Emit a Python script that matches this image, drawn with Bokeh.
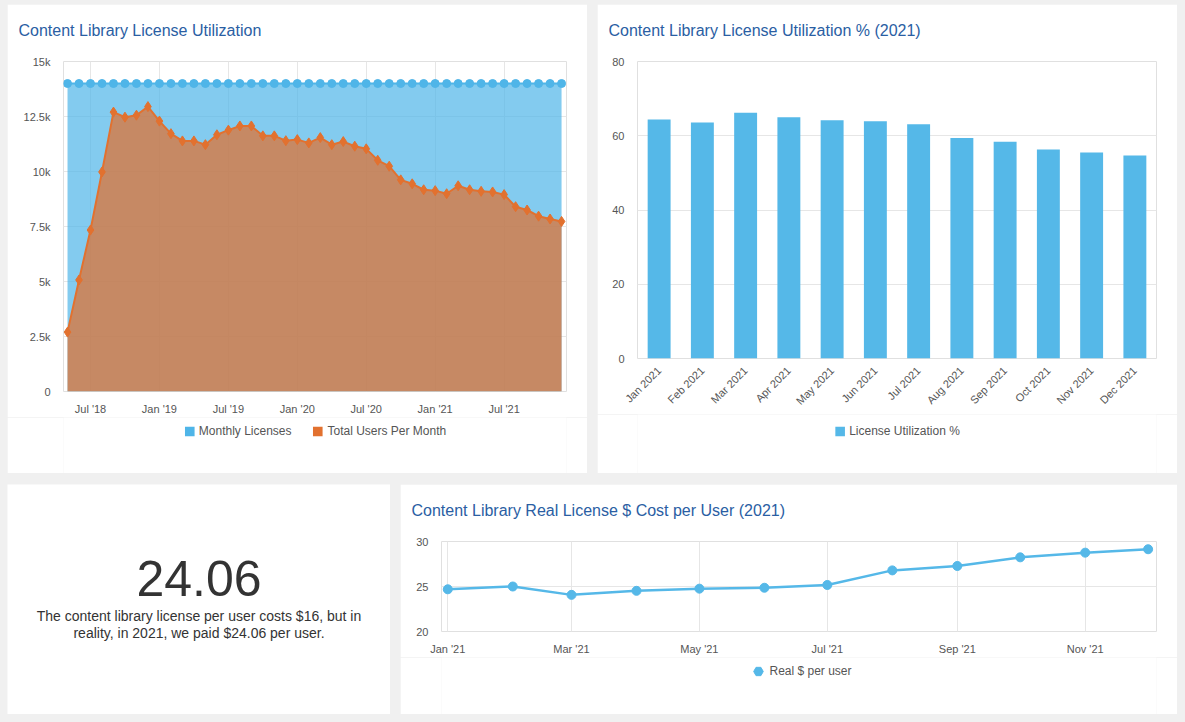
import math
import pandas as pd
from bokeh.plotting import figure
from bokeh.models import (ColumnDataSource, FixedTicker, Legend, LegendItem, Title,
                          Range1d, FactorRange)
from bokeh.layouts import row, column
from bokeh.embed import file_html
from bokeh.resources import INLINE

# ---------------- data ----------------
util_months = pd.date_range("2018-05-01", "2021-12-01", freq="MS")
monthly_licenses = [14000] * 44
total_users = [2700, 5070, 7340, 9980, 12700, 12470, 12560, 12950, 12290, 11720,
               11390, 11390, 11220, 11670, 11880, 12070, 12070, 11620, 11620, 11400,
               11450, 11300, 11540, 11220, 11360, 11150, 11030, 10510, 10240, 9620,
               9440, 9170, 9130, 8990, 9350, 9170, 9100, 9070, 8950, 8400,
               8250, 7970, 7840, 7730]
util_tick_months = ["2018-07", "2019-01", "2019-07", "2020-01", "2020-07", "2021-01", "2021-07"]
util_tick_labels = ["Jul '18", "Jan '19", "Jul '19", "Jan '20", "Jul '20", "Jan '21", "Jul '21"]
util_y_ticks = [0, 2500, 5000, 7500, 10000, 12500, 15000]
util_y_labels = ["0", "2.5k", "5k", "7.5k", "10k", "12.5k", "15k"]

pct_months = ["Jan 2021", "Feb 2021", "Mar 2021", "Apr 2021", "May 2021", "Jun 2021",
              "Jul 2021", "Aug 2021", "Sep 2021", "Oct 2021", "Nov 2021", "Dec 2021"]
pct_values = [64.4, 63.6, 66.2, 65.0, 64.2, 63.9, 63.1, 59.4, 58.4, 56.3, 55.5, 54.7]

cost_dates = ["2021-01-01", "2021-02-01", "2021-03-01", "2021-04-01", "2021-05-01", "2021-06-01",
              "2021-07-01", "2021-08-01", "2021-09-01", "2021-10-01", "2021-11-01", "2021-12-01"]
cost_values = [24.69, 25.0, 24.07, 24.52, 24.76, 24.86, 25.17, 26.79, 27.28, 28.24, 28.76, 29.14]
cost_tick_dates = ["2021-01-01", "2021-03-01", "2021-05-01", "2021-07-01", "2021-09-01", "2021-11-01"]
cost_tick_labels = ["Jan '21", "Mar '21", "May '21", "Jul '21", "Sep '21", "Nov '21"]

kpi_value = "24.06"
kpi_text = ["The content library license per user costs $16, but in",
            "reality, in 2021, we paid $24.06 per user."]

# ---------------- style ----------------
TITLE_COLOR = "#2a5ea3"
LABEL_COLOR = "#555555"
GRID = "#e6e6e6"
BLUE = "#4fb5e8"
BAR_BLUE = "#55b8e8"
ORANGE = "#e2712f"


def style_fig(p, title_text, title_offset):
    p.add_layout(Title(text=" ", text_font_size="14px", standoff=0), "above")
    p.add_layout(Title(text=title_text, text_font_size="16px", text_font_style="normal",
                       text_color=TITLE_COLOR, align="left", offset=title_offset,
                       standoff=10), "above")
    p.background_fill_color = "white"
    p.border_fill_color = "white"
    p.outline_line_color = "#e0e0e0"
    for ax in (p.xaxis, p.yaxis):
        ax.axis_line_color = None
        ax.major_tick_line_color = None
        ax.minor_tick_line_color = None
        ax.major_label_text_font_size = "11px"
        ax.major_label_text_color = LABEL_COLOR
    p.yaxis.major_label_standoff = 7
    p.xaxis.major_label_standoff = 5
    p.xgrid.grid_line_color = GRID
    p.ygrid.grid_line_color = GRID


def legend_fig(width, height, entries, margin, glyph=12, standoff=4):
    """A small figure that only holds a centred horizontal legend.
    Its sample renderers hold one point far outside the visible range."""
    f = figure(width=width, height=height, output_backend="svg", toolbar_location=None,
               x_range=Range1d(0, 1), y_range=Range1d(0, 1), min_border=0)
    f.axis.visible = False
    f.grid.visible = False
    f.outline_line_color = None
    f.background_fill_color = "white"
    f.border_fill_color = "white"
    items = []
    for label, kind, color in entries:
        if kind == "box":
            r = f.quad(left=[50], right=[51], top=[51], bottom=[50], fill_color=color, line_color=None)
        else:
            r = f.scatter(x=[50], y=[50], marker=kind, fill_color=color, line_color=color)
        items.append(LegendItem(label=label, renderers=[r]))
    lg = Legend(items=items, orientation="horizontal", location="top_center",
                border_line_color=None, background_fill_alpha=0,
                label_text_font_size="12px", label_text_color=LABEL_COLOR,
                glyph_width=glyph, glyph_height=glyph, label_standoff=standoff,
                spacing=20, padding=0, margin=margin)
    f.add_layout(lg)
    return f


# ---------------- chart 1: utilization area ----------------
idx = list(range(len(util_months)))
month_keys = [d.strftime("%Y-%m") for d in util_months]
src1 = ColumnDataSource(dict(x=idx, lic=monthly_licenses, users=total_users))

p1 = figure(width=580, height=413, output_backend="svg", toolbar_location=None, title=None,
            x_range=Range1d(-0.35, len(idx) - 1 + 0.43), y_range=Range1d(0, 15000),
            min_border_left=56, min_border_right=21, min_border_top=57, min_border_bottom=20)
style_fig(p1, "Content Library License Utilization", -45)
p1.varea(x="x", y1=0, y2="lic", source=src1, fill_color=BLUE, fill_alpha=0.7)
p1.varea(x="x", y1=0, y2="users", source=src1, fill_color="#e07030", fill_alpha=0.73)
p1.line(x="x", y="lic", source=src1, line_color=BLUE, line_width=2)
p1.scatter(x="x", y="lic", source=src1, marker="circle", size=8, fill_color=BLUE, line_color=BLUE)
p1.line(x="x", y="users", source=src1, line_color=ORANGE, line_width=2)
p1.scatter(x="x", y="users", source=src1, marker="diamond", size=10, fill_color=ORANGE, line_color=ORANGE)
tick_idx = [month_keys.index(m) for m in util_tick_months]
p1.xaxis.ticker = FixedTicker(ticks=tick_idx)
p1.xaxis.major_label_overrides = {t: l for t, l in zip(tick_idx, util_tick_labels)}
p1.yaxis.ticker = FixedTicker(ticks=util_y_ticks)
p1.yaxis.major_label_overrides = {t: l for t, l in zip(util_y_ticks, util_y_labels)}
leg1 = legend_fig(580, 56, [("Monthly Licenses", "box", BLUE),
                            ("Total Users Per Month", "box", ORANGE)], margin=7)

# ---------------- chart 2: utilization % bars ----------------
src2 = ColumnDataSource(dict(m=pct_months, v=pct_values))
p2 = figure(width=580, height=410, output_backend="svg", toolbar_location=None, title=None,
            x_range=FactorRange(*pct_months, range_padding=0), y_range=Range1d(0, 80),
            min_border_left=40, min_border_right=21, min_border_top=57, min_border_bottom=50)
style_fig(p2, "Content Library License Utilization % (2021)", -29)
p2.vbar(x="m", top="v", width=0.53, source=src2, fill_color=BAR_BLUE, line_color=None)
p2.xgrid.grid_line_color = None
p2.yaxis.ticker = FixedTicker(ticks=[0, 20, 40, 60, 80])
p2.xaxis.major_label_orientation = math.pi / 4
p2.xaxis.major_label_standoff = 4
leg2 = legend_fig(580, 59, [("License Utilization %", "box", BAR_BLUE)], margin=10)

# ---------------- chart 3: cost per user line ----------------
start = pd.Timestamp(cost_dates[0])
cost_x = [(pd.Timestamp(d) - start).days for d in cost_dates]
cost_ticks = [(pd.Timestamp(d) - start).days for d in cost_tick_dates]
src3 = ColumnDataSource(dict(x=cost_x, v=cost_values))
p3 = figure(width=777, height=173, output_backend="svg", toolbar_location=None, title=None,
            x_range=Range1d(-3, 338), y_range=Range1d(20, 30),
            min_border_left=41, min_border_right=21, min_border_top=57, min_border_bottom=20)
style_fig(p3, "Content Library Real License $ Cost per User (2021)", -30)
p3.line(x="x", y="v", source=src3, line_color=BAR_BLUE, line_width=2.5)
p3.scatter(x="x", y="v", source=src3, marker="circle", size=9, fill_color=BAR_BLUE, line_color=BAR_BLUE)
p3.xaxis.ticker = FixedTicker(ticks=cost_ticks)
p3.xaxis.major_label_overrides = {t: l for t, l in zip(cost_ticks, cost_tick_labels)}
p3.yaxis.ticker = FixedTicker(ticks=[20, 25, 30])
leg3 = legend_fig(777, 57, [("Real $ per user", "hex", BAR_BLUE)], margin=2, glyph=24, standoff=0)

# ---------------- KPI card ----------------
p4 = figure(width=383, height=230, output_backend="svg", toolbar_location=None,
            x_range=Range1d(0, 1), y_range=Range1d(0, 230), min_border=0)
p4.axis.visible = False
p4.grid.visible = False
p4.outline_line_color = None
p4.background_fill_color = "white"
p4.border_fill_color = "white"
p4.text(x=[0.5], y=[230 - 94], text=[kpi_value], text_align="center",
        text_baseline="middle", text_font_size="50px", text_color="#333333")
p4.text(x=[0.5, 0.5], y=[230 - 131, 230 - 148], text=kpi_text, text_align="center",
        text_baseline="middle", text_font_size="14px", text_color="#333333")

layout = column(
    row(column(p1, leg1, spacing=0), column(p2, leg2, spacing=0), spacing=10),
    row(p4, column(p3, leg3, spacing=0), spacing=10),
    spacing=11)

html = file_html(layout, INLINE, title="Content Library Dashboard")
html = html.replace("</head>",
                    "<style>html,body{background:#f0f0f0;}body{margin:0;padding:4px 0 0 7px;}</style></head>", 1)
open("out.html", "w").write(html)
